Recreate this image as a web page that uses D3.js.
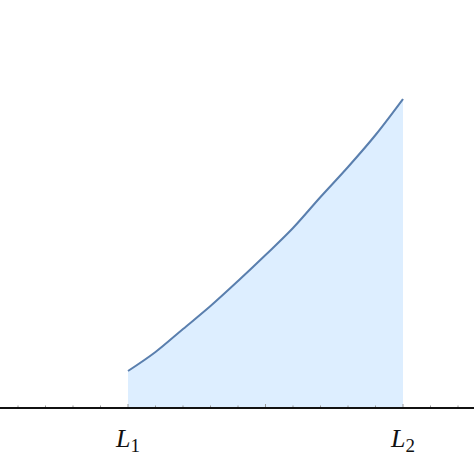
<!DOCTYPE html><html><head><script src="https://cdn.jsdelivr.net/npm/d3@7"></script>
<style>body{margin:0;background:#fff}</style></head><body><svg id="c" width="474" height="474"></svg>
<script>
const xs=[1,1.1,1.2,1.3,1.4,1.5,1.6,1.7,1.8,1.9,2];
const ys=[37,56,79,102,127,153,180,211,241,273,309];
const tickLabels=[{v:1,t:"L",s:"1"},{v:2,t:"L",s:"2"}];
const svg=d3.select("#c");
const x=d3.scaleLinear().domain([1,2]).range([128,403]);
const y=d3.scaleLinear().domain([0,400]).range([408,8]);
const data=xs.map((d,i)=>[d,ys[i]]);
svg.append("path").datum(data).attr("fill","#ddeeff")
 .attr("d",d3.area().x(d=>x(d[0])).y0(y(0)).y1(d=>y(d[1])).curve(d3.curveMonotoneX));
svg.append("path").datum(data).attr("fill","none").attr("stroke","#5a7fae").attr("stroke-width",2)
 .attr("d",d3.line().x(d=>x(d[0])).y(d=>y(d[1])).curve(d3.curveMonotoneX));
const ticks=d3.range(-4,13).map(i=>1+i*0.1);
svg.selectAll(".t").data(ticks).enter().append("line")
 .attr("x1",d=>x(d)).attr("x2",d=>x(d)).attr("y1",y(0)).attr("y2",d=>y(0)-(Math.abs(d-1)<1e-6||Math.abs(d-2)<1e-6||Math.abs(d-1.5)<1e-6?4:2.5))
 .attr("stroke","#999").attr("stroke-width",1);
svg.append("line").attr("x1",0).attr("x2",474).attr("y1",y(0)).attr("y2",y(0)).attr("stroke","#111").attr("stroke-width",2);
const lb=svg.selectAll(".l").data(tickLabels).enter().append("text")
 .attr("x",d=>x(d.v)).attr("y",447).attr("text-anchor","middle")
 .attr("font-family","Liberation Serif").attr("font-size",26).attr("fill","#111");
lb.append("tspan").attr("font-style","italic").text(d=>d.t);
lb.append("tspan").attr("dy",5).attr("font-size",19).text(d=>d.s);
</script></body></html>
